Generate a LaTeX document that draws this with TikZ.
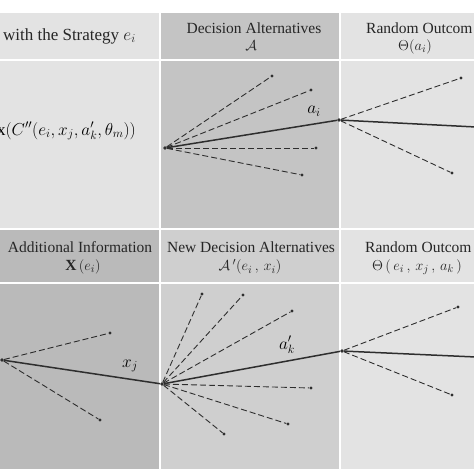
\documentclass[tikz,border=0pt]{standalone}
\usepackage{amsmath, amssymb}
\usepackage{fontspec}
\setmainfont{Liberation Serif}
\usepackage{tikz}

\definecolor{lightcell}{gray}{0.89}
\definecolor{midcell}{gray}{0.81}
\definecolor{darkcell}{gray}{0.77}
\definecolor{deepcell}{gray}{0.73}
\definecolor{treeline}{gray}{0.18}

\begin{document}
\begin{tikzpicture}[x=1pt, y=-1pt,
  hdr/.style={font=\fontsize{15.5}{17}\selectfont, text=black!85, inner sep=0pt},
  lbl/.style={font=\fontsize{17}{19}\selectfont, inner sep=0pt},
  leaf/.style={circle, fill=treeline, inner sep=0pt, minimum size=3.2pt},
  knot/.style={circle, fill=treeline, inner sep=0pt, minimum size=3.6pt},
  branch/.style={treeline, line width=0.9pt, dash pattern=on 6pt off 3pt},
  mainpath/.style={treeline, line width=1.5pt}
]
  \useasboundingbox (0,0) rectangle (474,474);
  \clip (0,0) rectangle (474,474);
  \fill[white] (0,0) rectangle (474,474);

  % cells
  \fill[lightcell] (-5,13) rectangle (159,59);
  \fill[lightcell] (-5,61) rectangle (159,228);
  \fill[darkcell] (161,13) rectangle (339,59);
  \fill[darkcell] (161,61) rectangle (339,228);
  \fill[lightcell] (341,13) rectangle (480,59);
  \fill[lightcell] (341,61) rectangle (480,228);
  \fill[deepcell] (-5,230) rectangle (159,282);
  \fill[deepcell] (-5,284) rectangle (159,469);
  \fill[midcell] (161,230) rectangle (339,282);
  \fill[midcell] (161,284) rectangle (339,469);
  \fill[lightcell] (341,230) rectangle (480,282);
  \fill[lightcell] (341,284) rectangle (480,469);

  % headers
  \node[hdr, anchor=east, font=\fontsize{17}{19}\selectfont] (hstrat) at (136,36) {with the Strategy $e_i$};
  \node[hdr] (hdec) at (254,28) {Decision Alternatives};
  \node[hdr] (hdecset) at (251,46) {$\mathcal{A}$};
  \node[hdr, anchor=west] (hrand) at (366,28) {Random Outcom};
  \node[hdr] (hrandset) at (415,47) {$\Theta(a_i)$};
  \node[hdr] (hinfo) at (80,247) {Additional Information};
  \node[hdr] (hinfoset) at (83,267) {$\mathbf{X}\,(e_i)$};
  \node[hdr] (hnew) at (251,247) {New Decision Alternatives};
  \node[hdr] (hnewset) at (250,267) {$\mathcal{A}\,'(e_i\,,\,x_i)$};
  \node[hdr, anchor=west] (hrand2) at (365,247) {Random Outcom};
  \node[hdr] (hrand2set) at (417,267) {$\Theta\,(\,e_i\,,\,x_j\,,\,a_k\,)$};

  % value
  \node[anchor=east, inner sep=0pt, font=\fontsize{17}{19}\selectfont] (value) at (136,131)
    {$\mathrm{x}(C''(e_i,x_j,a'_k,\theta_m))$};

  % first stage
  \node[knot] (dec1) at (165,148) {};
  \node[leaf] (t1) at (272,76) {};
  \node[leaf] (t2) at (311,90) {};
  \node[leaf] (t3) at (316,148) {};
  \node[leaf] (t4) at (302,175) {};
  \node[knot] (ch1) at (339,120) {};
  \node[leaf] (o1) at (461,78) {};
  \node[leaf] (o2) at (452,173) {};
  \coordinate (end1) at (476,127);

  \draw[branch] (dec1) -- (t1);
  \draw[branch] (dec1) -- (t2);
  \draw[branch] (dec1) -- (t3);
  \draw[branch] (dec1) -- (t4);
  \draw[mainpath] (dec1) -- (ch1);
  \draw[branch] (ch1) -- (o1);
  \draw[branch] (ch1) -- (o2);
  \draw[mainpath] (ch1) -- (end1);
  \node[lbl] (ai) at (314,111) {$a_i$};

  % second stage
  \node[knot] (info) at (2,360) {};
  \node[leaf] (x1) at (110,333) {};
  \node[leaf] (x2) at (100,420) {};
  \node[knot] (dec2) at (162,384) {};
  \node[leaf] (d1) at (202,294) {};
  \node[leaf] (d2) at (243,295) {};
  \node[leaf] (d3) at (292,311) {};
  \node[leaf] (d4) at (311,388) {};
  \node[leaf] (d5) at (288,424) {};
  \node[leaf] (d6) at (224,434) {};
  \node[knot] (ch2) at (342,351) {};
  \node[leaf] (e1) at (458,307) {};
  \node[leaf] (e2) at (452,395) {};
  \coordinate (end2) at (476,357);

  \draw[branch] (info) -- (x1);
  \draw[branch] (info) -- (x2);
  \draw[mainpath] (info) -- (dec2);
  \draw[branch] (dec2) -- (d1);
  \draw[branch] (dec2) -- (d2);
  \draw[branch] (dec2) -- (d3);
  \draw[branch] (dec2) -- (d4);
  \draw[branch] (dec2) -- (d5);
  \draw[branch] (dec2) -- (d6);
  \draw[mainpath] (dec2) -- (ch2);
  \draw[branch] (ch2) -- (e1);
  \draw[branch] (ch2) -- (e2);
  \draw[mainpath] (ch2) -- (end2);
  \node[lbl] (xj) at (130,366) {$x_j$};
  \node[lbl] (ak) at (287,345) {$a'_k$};
\end{tikzpicture}
\end{document}
